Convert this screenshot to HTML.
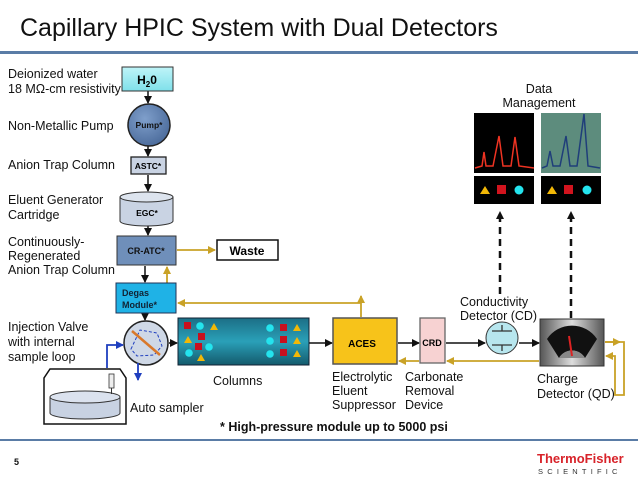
<!DOCTYPE html>
<html><head><meta charset="utf-8"><style>
body{margin:0;background:#fff}
svg{display:block;font-family:"Liberation Sans",Arial,sans-serif}
</style></head><body>
<svg width="638" height="478" viewBox="0 0 638 478" xmlns="http://www.w3.org/2000/svg">
<defs>
<marker id="ab" markerWidth="8" markerHeight="8" refX="7" refY="4" orient="auto" markerUnits="userSpaceOnUse"><path d="M0,0 L8,4 L0,8 z" fill="#111"/></marker>
<marker id="ay" markerWidth="8" markerHeight="8" refX="7" refY="4" orient="auto" markerUnits="userSpaceOnUse"><path d="M0,0 L8,4 L0,8 z" fill="#c9a227"/></marker>
<marker id="au" markerWidth="8" markerHeight="8" refX="7" refY="4" orient="auto" markerUnits="userSpaceOnUse"><path d="M0,0 L8,4 L0,8 z" fill="#1f3fbf"/></marker>
<linearGradient id="h2o" x1="0" y1="0" x2="0" y2="1"><stop offset="0" stop-color="#bff4f8"/><stop offset="1" stop-color="#7fe0ea"/></linearGradient>
<radialGradient id="pump" cx="0.4" cy="0.35" r="0.7"><stop offset="0" stop-color="#7f9fcb"/><stop offset="1" stop-color="#4a6a9a"/></radialGradient>
<linearGradient id="col" x1="0" y1="0" x2="0" y2="1"><stop offset="0" stop-color="#1c6f86"/><stop offset="0.5" stop-color="#2aa0b8"/><stop offset="1" stop-color="#145a6c"/></linearGradient>
<linearGradient id="qd" x1="0" y1="0" x2="1" y2="0"><stop offset="0" stop-color="#555"/><stop offset="0.5" stop-color="#ddd"/><stop offset="1" stop-color="#555"/></linearGradient>
</defs>
<text x="20" y="36" font-size="25" fill="#111">Capillary HPIC System with Dual Detectors</text>
<rect x="0" y="51" width="638" height="3" fill="#5a7ca6"/>
<rect x="0" y="439" width="638" height="2" fill="#5a7ca6"/>
<g font-size="12.5" fill="#111">
<text x="8" y="78">Deionized water</text><text x="8" y="93">18 MΩ-cm resistivity</text>
<text x="8" y="130">Non-Metallic Pump</text>
<text x="8" y="169">Anion Trap Column</text>
<text x="8" y="204">Eluent Generator</text><text x="8" y="219">Cartridge</text>
<text x="8" y="246">Continuously-</text><text x="8" y="260">Regenerated</text><text x="8" y="274">Anion Trap Column</text>
<text x="8" y="331">Injection Valve</text><text x="8" y="346">with internal</text><text x="8" y="361">sample loop</text>
<text x="213" y="385">Columns</text>
<text x="130" y="412">Auto sampler</text>
<text x="332" y="381">Electrolytic</text><text x="332" y="395">Eluent</text><text x="332" y="409">Suppressor</text>
<text x="405" y="381">Carbonate</text><text x="405" y="395">Removal</text><text x="405" y="409">Device</text>
<text x="537" y="383">Charge</text><text x="537" y="398">Detector (QD)</text>
<text x="460" y="306">Conductivity</text><text x="460" y="320">Detector (CD)</text>
<text x="539" y="93" text-anchor="middle">Data</text><text x="539" y="107" text-anchor="middle">Management</text>
</g>
<text x="220" y="431" font-size="12.5" font-weight="bold" fill="#111">* High-pressure module up to 5000 psi</text>
<text x="14" y="465" font-size="9" font-weight="bold" fill="#111">5</text>
<text x="537" y="463" font-size="13" font-weight="bold" fill="#d8232a">ThermoFisher</text>
<text x="538" y="474" font-size="7.5" letter-spacing="4.2" fill="#333">SCIENTIFIC</text>
<g stroke="#111" stroke-width="1.5" fill="none">
<line x1="148" y1="91" x2="148" y2="103" marker-end="url(#ab)"/>
<line x1="148" y1="146" x2="148" y2="156" marker-end="url(#ab)"/>
<line x1="148" y1="175" x2="148" y2="191" marker-end="url(#ab)"/>
<line x1="148" y1="226" x2="148" y2="235" marker-end="url(#ab)"/>
<line x1="145" y1="266" x2="145" y2="282" marker-end="url(#ab)"/>
<line x1="145" y1="314" x2="145" y2="320" marker-end="url(#ab)"/>
<line x1="169" y1="343" x2="177" y2="343" marker-end="url(#ab)"/>
<line x1="309" y1="343" x2="332" y2="343" marker-end="url(#ab)"/>
<line x1="398" y1="343" x2="419" y2="343" marker-end="url(#ab)"/>
<line x1="446" y1="343" x2="485" y2="343" marker-end="url(#ab)"/>
<line x1="519" y1="343" x2="539" y2="343" marker-end="url(#ab)"/>
</g>
<g stroke="#111" stroke-width="2.5" stroke-dasharray="7,5" fill="none">
<line x1="500" y1="294" x2="500" y2="212" marker-end="url(#ab)"/>
<line x1="571" y1="318" x2="571" y2="212" marker-end="url(#ab)"/>
</g>
<g stroke="#c9a227" stroke-width="1.8" fill="none">
<line x1="177" y1="250" x2="215" y2="250" marker-end="url(#ay)"/>
<line x1="167" y1="283" x2="167" y2="267" marker-end="url(#ay)"/>
<line x1="361" y1="317" x2="361" y2="296" marker-end="url(#ay)"/>
<polyline points="361,303 178,303" marker-end="url(#ay)"/>
<line x1="539" y1="361" x2="447" y2="361" marker-end="url(#ay)"/>
<line x1="419" y1="361" x2="399" y2="361" marker-end="url(#ay)"/>
<polyline points="605,342 624,342 624,395 615,395 615,356 606,356" marker-end="url(#ay)"/>
<line x1="605" y1="342" x2="620" y2="342" marker-end="url(#ay)"/>
</g>
<rect x="122" y="67" width="51" height="24" fill="url(#h2o)" stroke="#333"/>
<text x="147" y="84" font-size="12" font-weight="bold" text-anchor="middle">H<tspan font-size="8" dy="3">2</tspan><tspan dy="-3">0</tspan></text>
<circle cx="149" cy="125" r="21" fill="url(#pump)" stroke="#222" stroke-width="1.5"/>
<text x="149" y="128" font-size="8.5" font-weight="bold" text-anchor="middle" fill="#111">Pump*</text>
<rect x="131" y="157" width="35" height="17" fill="#c9d3e3" stroke="#222" stroke-width="1.3"/>
<text x="148" y="169" font-size="8.5" font-weight="bold" text-anchor="middle">ASTC*</text>
<path d="M120,197 L120,221 A26.5,5 0 0 0 173,221 L173,197" fill="#c9d3e3" stroke="#333"/>
<ellipse cx="146.5" cy="197" rx="26.5" ry="5" fill="#dde4ee" stroke="#333"/>
<text x="147" y="216" font-size="8.5" font-weight="bold" text-anchor="middle">EGC*</text>
<rect x="117" y="236" width="59" height="29" fill="#6f8fba" stroke="#333"/>
<text x="146" y="254" font-size="9" font-weight="bold" text-anchor="middle" fill="#111">CR-ATC*</text>
<rect x="217" y="240" width="61" height="20" fill="#fff" stroke="#111" stroke-width="1.5"/>
<text x="247" y="255" font-size="12" font-weight="bold" text-anchor="middle">Waste</text>
<rect x="116" y="283" width="60" height="30" fill="#1fb2e6" stroke="#235"/>
<text x="122" y="296" font-size="9" font-weight="bold" fill="#123">Degas</text>
<text x="122" y="308" font-size="9" font-weight="bold" fill="#123">Module*</text>
<circle cx="146" cy="343" r="22" fill="#cfd8e6" stroke="#222" stroke-width="1.5"/>
<polygon points="131,349 140,330 157,333 162,346 154,355 137,356" fill="none" stroke="#1f3fbf" stroke-width="1" stroke-dasharray="3,2"/>
<line x1="132" y1="331" x2="160" y2="355" stroke="#d9782b" stroke-width="2.5"/>
<polyline points="107,368 107,345 123,345" stroke="#1f3fbf" stroke-width="1.8" fill="none" marker-end="url(#au)"/>
<line x1="138" y1="363" x2="138" y2="380" stroke="#1f3fbf" stroke-width="1.8" marker-end="url(#au)"/>
<polygon points="50,369 120,369 126,378 126,424 44,424 44,378" fill="#fff" stroke="#111" stroke-width="1.5"/>
<path d="M50,397 L50,413 A35,6 0 0 0 120,413 L120,397" fill="#c8d2e2" stroke="#333"/>
<ellipse cx="85" cy="397" rx="35" ry="6" fill="#dbe2ee" stroke="#333"/>
<rect x="109" y="374" width="5" height="14" fill="#eee" stroke="#333" stroke-width="0.8"/>
<line x1="111.5" y1="388" x2="111.5" y2="394" stroke="#333"/>
<rect x="178" y="318" width="131" height="47" fill="url(#col)" stroke="#123"/>
<g fill="#c8101e"><rect x="184" y="322" width="7" height="7"/><rect x="198" y="333" width="7" height="7"/><rect x="195" y="343" width="7" height="7"/><rect x="280" y="324" width="7" height="7"/><rect x="280" y="336" width="7" height="7"/><rect x="280" y="349" width="7" height="7"/></g>
<g fill="#24e4ee"><circle cx="200" cy="326" r="3.8"/><circle cx="189" cy="353" r="3.8"/><circle cx="209" cy="347" r="3.8"/><circle cx="270" cy="328" r="3.8"/><circle cx="270" cy="341" r="3.8"/><circle cx="270" cy="354" r="3.8"/></g>
<g fill="#f2b807"><polygon points="210,330 214,323 218,330"/><polygon points="184,343 188,336 192,343"/><polygon points="197,361 201,354 205,361"/><polygon points="293,331 297,324 301,331"/><polygon points="293,344 297,337 301,344"/><polygon points="293,357 297,350 301,357"/></g>
<rect x="333" y="318" width="64" height="46" fill="#f7c31a" stroke="#555" stroke-width="1.5"/>
<text x="362" y="347" font-size="10" font-weight="bold" text-anchor="middle">ACES</text>
<rect x="420" y="318" width="25" height="45" fill="#f7d2d2" stroke="#666" stroke-width="1.3"/>
<text x="432" y="346" font-size="9" font-weight="bold" text-anchor="middle">CRD</text>
<circle cx="502" cy="338" r="16" fill="#b7e6ee" stroke="#333"/>
<path d="M492,331 L512,331 M502,331 L502,325 M492,345 L512,345 M502,345 L502,351" stroke="#333" stroke-width="1.3" fill="none"/>
<rect x="540" y="319" width="64" height="47" fill="url(#qd)" stroke="#333"/>
<path d="M547,339 A30,30 0 0 1 597,339 L585,358 A15,15 0 0 0 559,358 z" fill="#111"/>
<path d="M559,358 A15,15 0 0 1 585,358 z" fill="#888"/>
<line x1="572" y1="356" x2="569" y2="336" stroke="#d22" stroke-width="2"/>
<rect x="474" y="113" width="60" height="60" fill="#000"/>
<rect x="541" y="113" width="60" height="60" fill="#5d8c7d"/>
<rect x="474" y="176" width="60" height="28" fill="#000"/>
<rect x="541" y="176" width="60" height="28" fill="#000"/>
<polyline points="475,168 482,166 484,152 486,166 493,166 499,136 503,166 511,166 515,137 519,166 534,168" fill="none" stroke="#e32" stroke-width="1.5"/>
<polyline points="542,168 547,166 550,151 553,166 560,166 566,136 570,166 577,166 584,114 588,166 600,168" fill="none" stroke="#1f3e7a" stroke-width="1.5"/>
<polygon points="480,194 485,186 490,194" fill="#f2b807"/><rect x="497" y="185" width="9" height="9" fill="#d2141e"/><circle cx="519" cy="190" r="4.5" fill="#24e4ee"/>
<polygon points="547,194 552,186 557,194" fill="#f2b807"/><rect x="564" y="185" width="9" height="9" fill="#d2141e"/><circle cx="587" cy="190" r="4.5" fill="#24e4ee"/>
</svg>
</body></html>
